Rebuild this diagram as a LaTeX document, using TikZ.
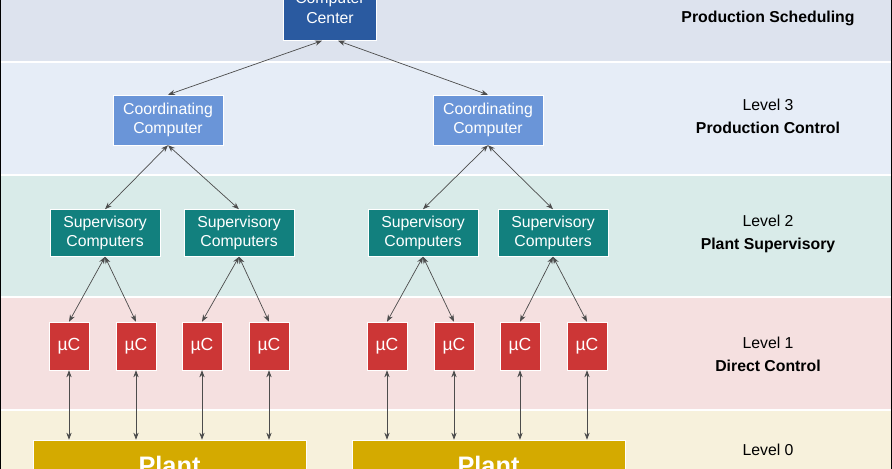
\documentclass[tikz,border=0pt]{standalone}
\usepackage{fontspec}
\setmainfont{Liberation Sans}
\usetikzlibrary{arrows.meta}
\definecolor{ccblue}{HTML}{2A5AA0}
\definecolor{coblue}{HTML}{6A95D8}
\definecolor{suteal}{HTML}{12807E}
\definecolor{mcred}{HTML}{CC3636}
\definecolor{plgold}{HTML}{D4AA00}
\definecolor{bandA}{HTML}{DDE3EE}
\definecolor{bandB}{HTML}{E6EDF7}
\definecolor{bandC}{HTML}{D9EBE9}
\definecolor{bandD}{HTML}{F5E0E0}
\definecolor{bandE}{HTML}{F7F1DC}
\tikzset{
    box/.style={draw=white,line width=0.3pt,text=white,align=center,font=\small},
    link/.style={<->,>={Stealth[length=4pt,width=3pt]},draw=black!70,line width=0.4pt},
    lvl/.style={align=center,font=\small}
}

\begin{document}
\begin{tikzpicture}[x=0.02cm,y=-0.02cm]
            \useasboundingbox (0,0) rectangle (892,469);
            \clip (0,0) rectangle (892,469);
            % bands
            \fill [bandA] (0,0) rectangle (892,62);
            \fill [bandB] (0,62) rectangle (892,175);
            \fill [bandC] (0,175) rectangle (892,297);
            \fill [bandD] (0,297) rectangle (892,410);
            \fill [bandE] (0,410) rectangle (892,469);
            \foreach \y in {62,175,297,410} {
                \draw [white,line width=1.2pt] (0,\y) -- (892,\y);
            }
            \draw [black,line width=0.8pt] (0.5,0) -- (0.5,469) (891.5,0) -- (891.5,469);

            % nodes
            \node [box,fill=ccblue,minimum width=1.86cm,minimum height=1.3cm] (cc) at (330,8) {Computer\\Center};
            \node [box,fill=coblue,minimum width=2.2cm,minimum height=1cm] (coA) at (168,120) {Coordinating\\Computer};
            \node [box,fill=coblue,minimum width=2.2cm,minimum height=1cm] (coB) at (488,120) {Coordinating\\Computer};
            \foreach \n/\x in {1/105,2/239,3/423,4/553} {
                \node [box,fill=suteal,minimum width=2.2cm,minimum height=0.94cm] (su\n) at (\x,233) {Supervisory\\Computers};
            }
            \foreach \n/\x in {1/69,2/136,3/202,4/269,5/387,6/454,7/520,8/587} {
                \node [box,fill=mcred,minimum width=0.8cm,minimum height=0.96cm,font=\normalsize] (mc\n) at (\x,346) {µC};
            }
            \node [box,fill=plgold,minimum width=5.46cm,minimum height=1cm,font=\Large\bfseries] (plA) at (169.5,465) {Plant};
            \node [box,fill=plgold,minimum width=5.46cm,minimum height=1cm,font=\Large\bfseries] (plB) at (488.5,465) {Plant};

            % connectors
            \coordinate (ccl) at ([xshift=-0.16cm]cc.south);
            \coordinate (ccr) at ([xshift=0.16cm]cc.south);
            \draw [link] (ccl) -- (coA.north);
            \draw [link] (ccr) -- (coB.north);
            \draw [link] (coA.south) -- (su1.north);
            \draw [link] (coA.south) -- (su2.north);
            \draw [link] (coB.south) -- (su3.north);
            \draw [link] (coB.south) -- (su4.north);
            \foreach \s/\a/\b in {1/1/2,2/3/4,3/5/6,4/7/8} {
                \draw [link] (su\s.south) -- (mc\a.north);
                \draw [link] (su\s.south) -- (mc\b.north);
            }
            \foreach \m in {1,...,4} {
                \draw [link] (mc\m.south) -- (mc\m.south |- plA.north);
            }
            \foreach \m in {5,...,8} {
                \draw [link] (mc\m.south) -- (mc\m.south |- plB.north);
            }

            % level labels
            \node [lvl,font=\small\bfseries] (lv4) at (768,18) {Production Scheduling};
            \node [lvl] (lv3) at (768,116) {Level 3\\[2pt]\textbf{Production Control}};
            \node [lvl] (lv2) at (768,234) {Level 2\\[2pt]\textbf{Plant Supervisory}};
            \node [lvl] (lv1) at (768,354) {Level 1\\[2pt]\textbf{Direct Control}};
            \node [lvl] (lv0) at (768,450) {Level 0};
        \end{tikzpicture}
\end{document}
